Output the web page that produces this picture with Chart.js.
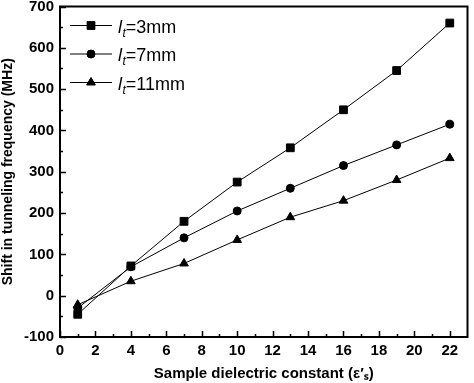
<!DOCTYPE html>
<html><head><meta charset="utf-8">
<script src="https://cdn.jsdelivr.net/npm/chart.js@4/dist/chart.umd.min.js"></script>
<style>html,body{margin:0;padding:0;background:#fff}#w{width:474px;height:383px;position:relative}</style>
</head><body><div id="w"><canvas id="c" width="474" height="383"></canvas></div>
<script>
const xValues = [1, 4, 7, 10, 13, 16, 19, 22];
const s3mm = [-45, 72, 180, 275, 358, 450, 545, 660];
const s7mm = [-30, 70, 140, 205, 260, 315, 365, 415];
const s11mm = [-22, 35, 78, 135, 190, 230, 280, 333];
const seriesNames = ['3mm', '7mm', '11mm'];
const xTicks = [0, 2, 4, 6, 8, 10, 12, 14, 16, 18, 20, 22];
const yTicks = [-100, 0, 100, 200, 300, 400, 500, 600, 700];

const pts = a => xValues.map((x, i) => ({x, y: a[i]}));
const styles = ['rect', 'circle', 'triangle'];
const radii = [5.5, 4, 5];
const datasets = [s3mm, s7mm, s11mm].map((a, i) => ({
  label: 'lt=' + seriesNames[i], data: pts(a), borderColor: '#000', backgroundColor: '#000',
  borderWidth: 1, pointStyle: styles[i], pointRadius: radii[i], pointBorderWidth: 1, showLine: true, tension: 0
}));

const frame = {
  id: 'frame',
  afterDatasetsDraw(chart) {
    const {ctx, chartArea: a, scales: {x, y}} = chart;
    ctx.save();
    ctx.strokeStyle = '#000';
    ctx.lineWidth = 2;
    ctx.strokeRect(a.left, a.top, a.right - a.left, a.bottom - a.top);
    ctx.lineWidth = 1.5;
    ctx.beginPath();
    for (let v = 0; v <= 22; v++) {
      const px = Math.round(x.getPixelForValue(v)) + 0.5;
      const L = v % 2 === 0 ? 6 : 3;
      ctx.moveTo(px, a.bottom); ctx.lineTo(px, a.bottom - L);
    }
    for (let v = -100; v <= 700; v += 50) {
      const py = Math.round(y.getPixelForValue(v)) + 0.5;
      const L = v % 100 === 0 ? 6 : 3;
      ctx.moveTo(a.left, py); ctx.lineTo(a.left + L, py);
    }
    ctx.stroke();
    // legend
    chart.data.datasets.forEach((ds, i) => {
      const ly = a.top + 19 + i * 28.5;
      const lx = a.left + 10;
      ctx.lineWidth = 1;
      ctx.beginPath(); ctx.moveTo(lx, ly); ctx.lineTo(lx + 42, ly); ctx.stroke();
      Chart.helpers.drawPoint(ctx, {pointStyle: ds.pointStyle, radius: ds.pointRadius, borderWidth: 1}, lx + 21, ly);
      ctx.fillStyle = '#000';
      ctx.fill();
      ctx.fillStyle = '#000';
      ctx.textBaseline = 'alphabetic';
      ctx.font = 'italic 18px "Liberation Sans", Arial, sans-serif';
      let tx = lx + 48;
      ctx.fillText('l', tx, ly + 7); tx += ctx.measureText('l').width + 0.5;
      ctx.font = 'italic 12px "Liberation Sans", Arial, sans-serif';
      ctx.fillText('t', tx, ly + 11); tx += ctx.measureText('t').width;
      ctx.font = '18px "Liberation Sans", Arial, sans-serif';
      ctx.fillText('=' + seriesNames[i], tx, ly + 7);
    });
    ctx.restore();
  }
};

new Chart(document.getElementById('c'), {
  type: 'scatter',
  data: {datasets},
  plugins: [frame],
  options: {
    responsive: false, animation: false, devicePixelRatio: 1,
    layout: {padding: {top: 5, right: 2, left: 0, bottom: 0}},
    plugins: {legend: {display: false}, tooltip: {enabled: false}},
    scales: {
      x: {
        type: 'linear', min: 0, max: 23,
        afterBuildTicks: s => { s.ticks = xTicks.map(v => ({value: v})); },
        afterFit: s => { s.height = 46; s.paddingLeft = 0; s.paddingRight = 0; },
        grid: {display: false, drawTicks: false}, border: {display: false},
        ticks: {color: '#000', padding: 5, font: {family: '"Liberation Sans", Arial, sans-serif', size: 15, weight: 'bold'}},
        title: {display: true, text: 'Sample dielectric constant (ε′ₛ)', color: '#000', padding: {top: 2, bottom: 0},
          font: {family: '"Liberation Sans", Arial, sans-serif', size: 15, weight: 'bold'}}
      },
      y: {
        type: 'linear', min: -100, max: 700,
        afterBuildTicks: s => { s.ticks = yTicks.map(v => ({value: v})); },
        afterFit: s => { s.width = 60; s.paddingTop = 0; s.paddingBottom = 0; },
        grid: {display: false, drawTicks: false}, border: {display: false},
        ticks: {color: '#000', padding: 6, font: {family: '"Liberation Sans", Arial, sans-serif', size: 15, weight: 'bold'}},
        title: {display: true, text: 'Shift in tunneling frequency (MHz)', color: '#000', padding: {top: 0, bottom: 2},
          font: {family: '"Liberation Sans", Arial, sans-serif', size: 14, weight: 'bold'}}
      }
    }
  }
});
</script></body></html>
